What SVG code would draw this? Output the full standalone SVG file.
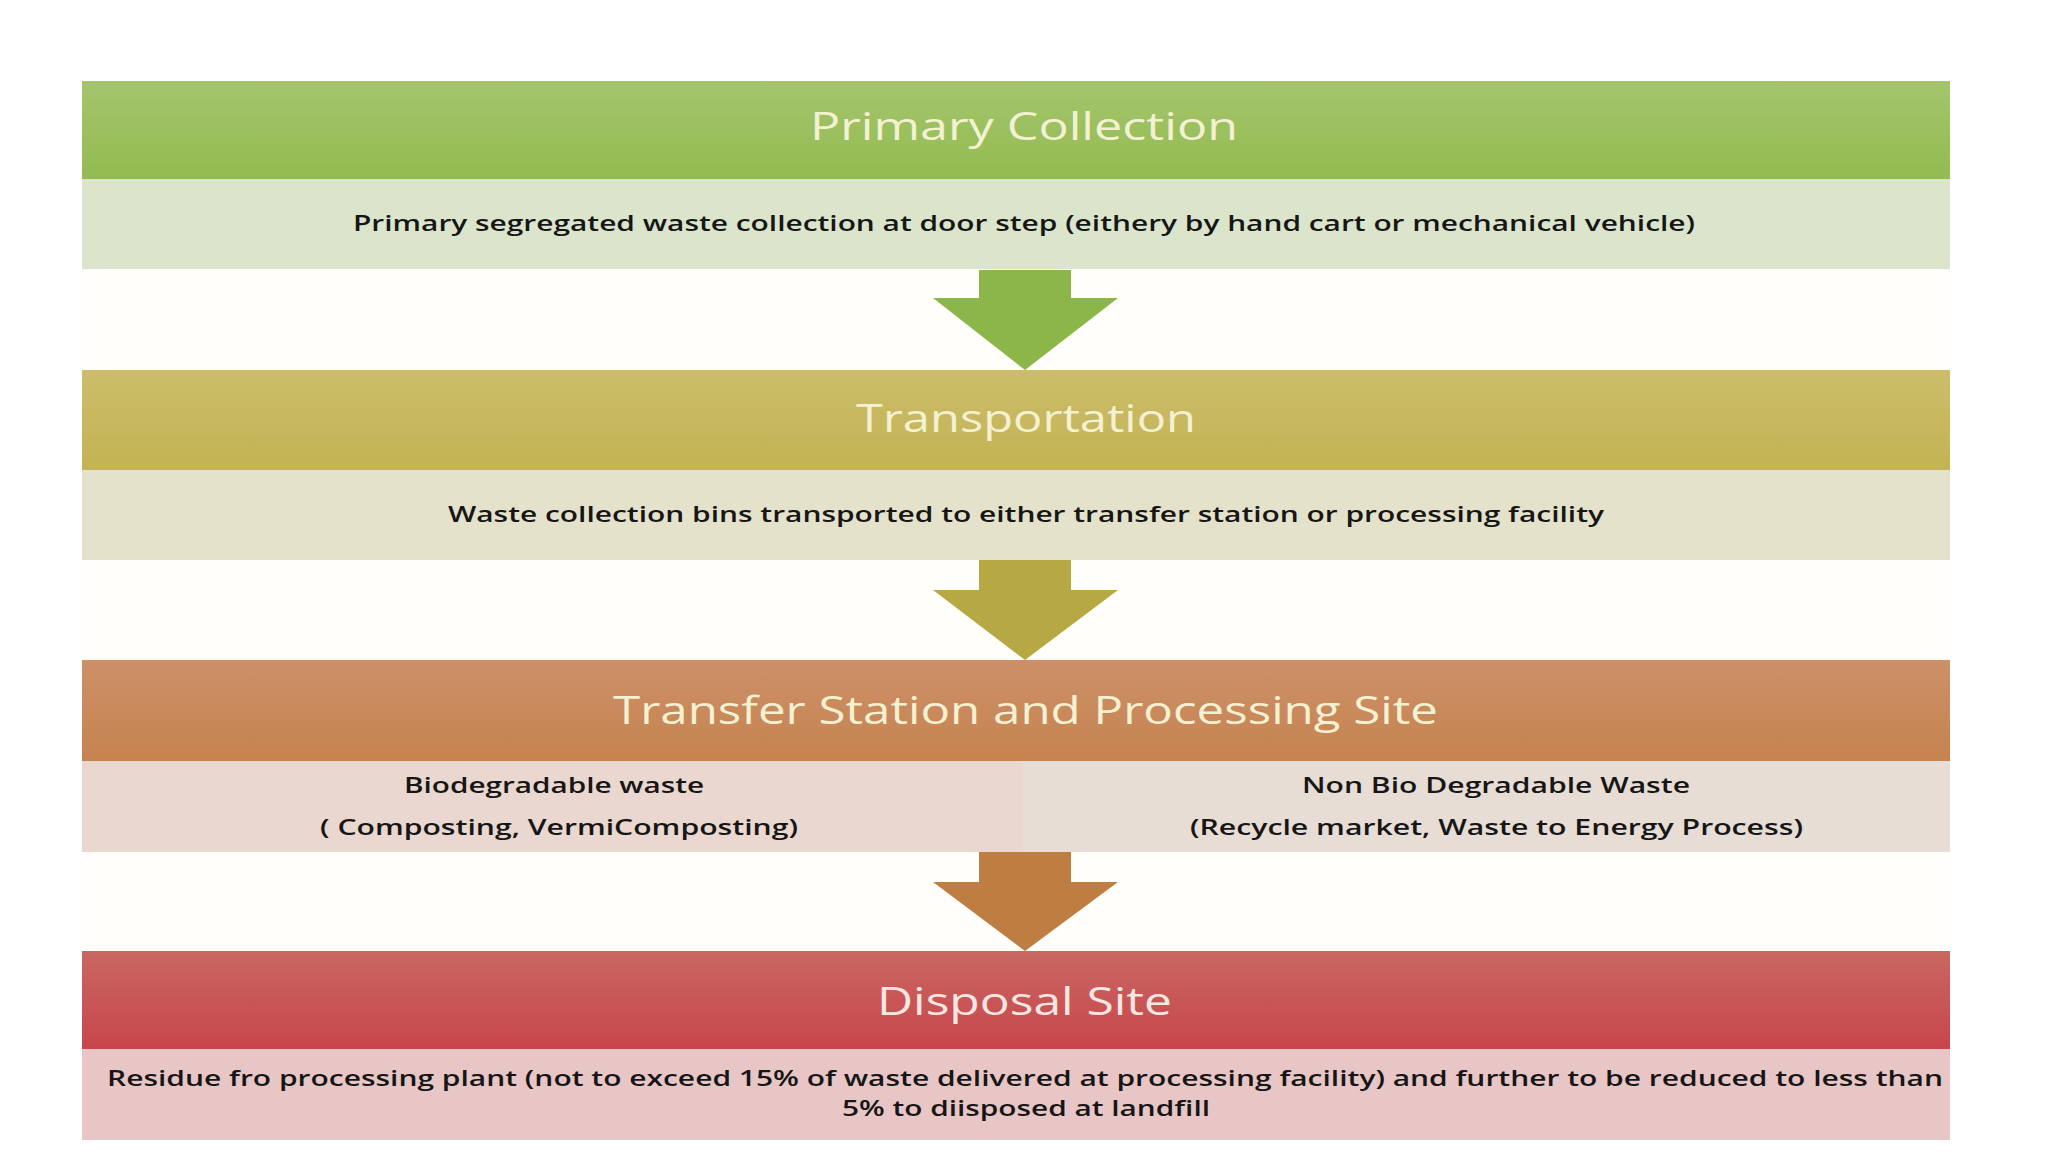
<svg xmlns="http://www.w3.org/2000/svg" width="2048" height="1152" viewBox="0 0 2048 1152">
<style>
.title{font-family:"Open Sans","Liberation Sans",sans-serif;font-size:39px;fill:#f3f1d2}
.body{font-family:"Open Sans","Liberation Sans",sans-serif;font-size:22px;fill:#161616;font-weight:600}
</style>
<defs>
<linearGradient id="gGreen" x1="0" y1="0" x2="0" y2="1"><stop offset="0" stop-color="#a4c56e"/><stop offset="1" stop-color="#93bb50"/></linearGradient>
<linearGradient id="gOlive" x1="0" y1="0" x2="0" y2="1"><stop offset="0" stop-color="#cbbd6a"/><stop offset="1" stop-color="#c4b354"/></linearGradient>
<linearGradient id="gBrown" x1="0" y1="0" x2="0" y2="1"><stop offset="0" stop-color="#cc9069"/><stop offset="1" stop-color="#c6834f"/></linearGradient>
<linearGradient id="gRed" x1="0" y1="0" x2="0" y2="1"><stop offset="0" stop-color="#c96862"/><stop offset="1" stop-color="#c8454c"/></linearGradient>
</defs>
<rect width="2048" height="1152" fill="#ffffff"/>
<rect x="82" y="269" width="1868" height="101" fill="#fffefb"/>
<rect x="82" y="560" width="1868" height="100" fill="#fffefb"/>
<rect x="82" y="852" width="1868" height="99" fill="#fffefb"/>

<g id="primary-collection">
<rect x="82" y="81" width="1868" height="98" fill="url(#gGreen)"/>
<rect x="82" y="179" width="1868" height="90" fill="#dbe5cc"/>
<text class="title" x="810" y="140" textLength="428" lengthAdjust="spacingAndGlyphs">Primary Collection</text>
<text class="body" x="353" y="231" textLength="1342" lengthAdjust="spacingAndGlyphs">Primary segregated waste collection at door step (eithery by hand cart or mechanical vehicle)</text>
</g>

<g id="transportation">
<rect x="82" y="370" width="1868" height="100" fill="url(#gOlive)"/>
<rect x="82" y="470" width="1868" height="90" fill="#e5e2cb"/>
<text class="title" x="856" y="432" textLength="340" lengthAdjust="spacingAndGlyphs">Transportation</text>
<text class="body" x="448" y="522" textLength="1156" lengthAdjust="spacingAndGlyphs">Waste collection bins transported to either transfer station or processing facility</text>
</g>

<g id="transfer-processing">
<rect x="82" y="660" width="1868" height="101" fill="url(#gBrown)"/>
<rect x="82" y="761" width="941" height="91" fill="#ead7cf"/>
<rect x="1023" y="761" width="927" height="91" fill="#e7ddd5"/>
<text class="title" x="613" y="724" textLength="825" lengthAdjust="spacingAndGlyphs">Transfer Station and Processing Site</text>
<text class="body" x="404" y="793" textLength="300" lengthAdjust="spacingAndGlyphs">Biodegradable waste</text>
<text class="body" x="320" y="835" textLength="478" lengthAdjust="spacingAndGlyphs">( Composting, VermiComposting)</text>
<text class="body" x="1302" y="793" textLength="388" lengthAdjust="spacingAndGlyphs">Non Bio Degradable Waste</text>
<text class="body" x="1190" y="835" textLength="613" lengthAdjust="spacingAndGlyphs">(Recycle market, Waste to Energy Process)</text>
</g>

<g id="disposal-site">
<rect x="82" y="951" width="1868" height="98" fill="url(#gRed)"/>
<rect x="82" y="1049" width="1868" height="91" fill="#e9c6c6"/>
<text class="title" x="877" y="1015" textLength="295" lengthAdjust="spacingAndGlyphs" style="fill:#f7e6e1">Disposal Site</text>
<text class="body" x="107" y="1086" textLength="1836" lengthAdjust="spacingAndGlyphs">Residue fro processing plant (not to exceed 15% of waste delivered at processing facility) and further to be reduced to less than</text>
<text class="body" x="842" y="1116" textLength="368" lengthAdjust="spacingAndGlyphs">5% to diisposed at landfill</text>
</g>

<g id="connectors">
<polygon points="979,270 1071,270 1071,298 1118,298 1025,370 933,298 979,298" fill="#8db64a"/>
<polygon points="979,560 1071,560 1071,590 1118,590 1025,660 933,590 979,590" fill="#b6a944"/>
<polygon points="979,852 1071,852 1071,882 1118,882 1025,951 933,882 979,882" fill="#be7e42"/>
</g>
</svg>
